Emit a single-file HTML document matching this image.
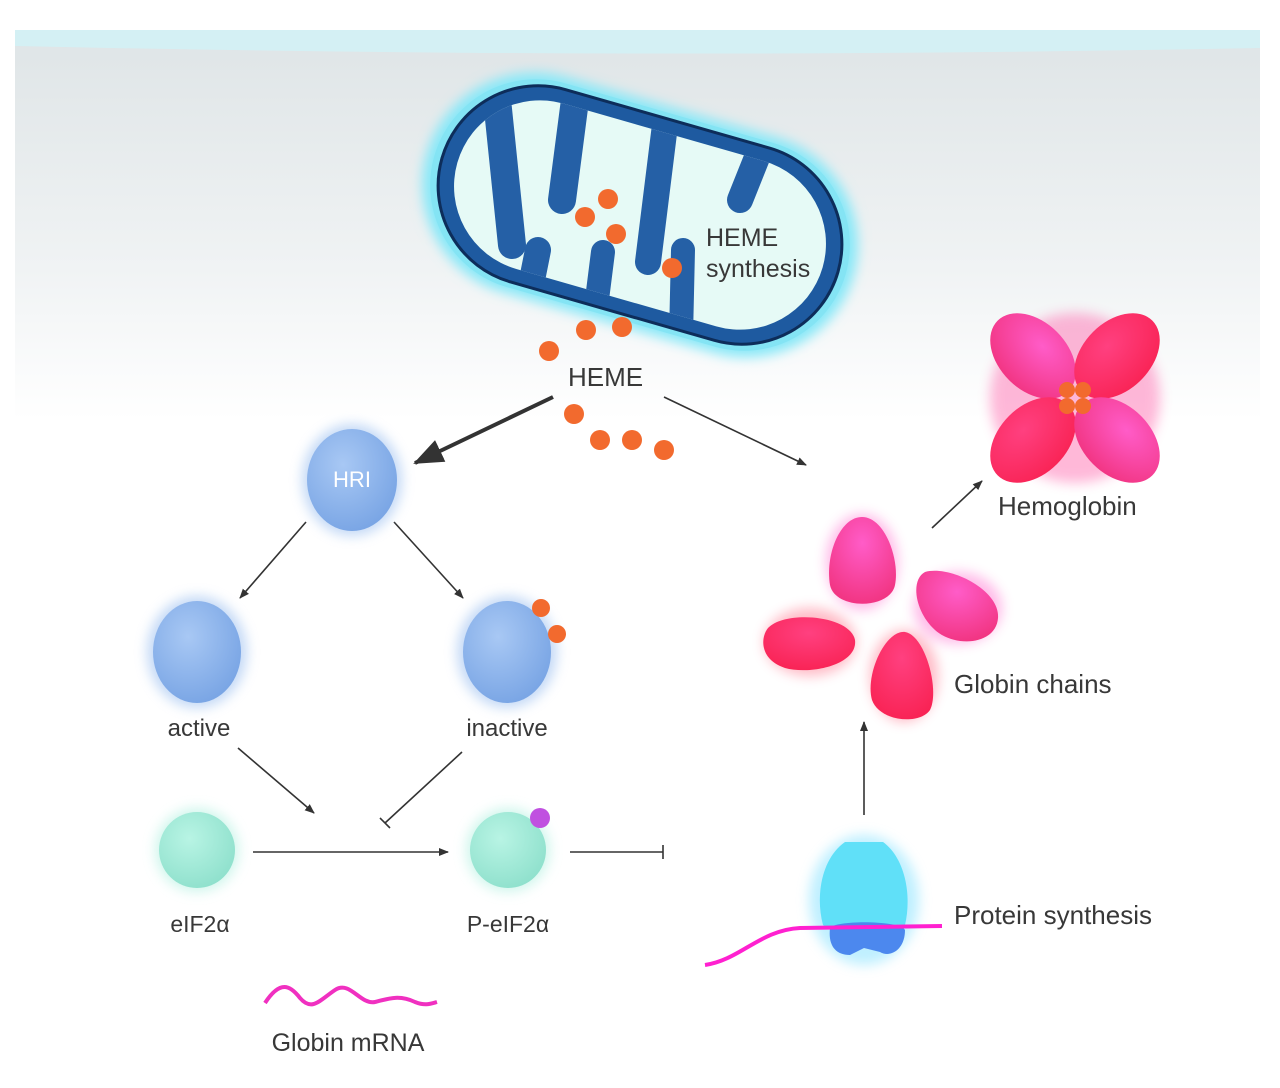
<!DOCTYPE html>
<html><head><meta charset="utf-8"><style>
html,body{margin:0;padding:0;background:#fff}
svg{display:block}
text{font-family:"Liberation Sans",sans-serif;fill:#383838}
</style></head><body>
<svg width="1280" height="1088" viewBox="0 0 1280 1088" xmlns="http://www.w3.org/2000/svg">
<defs>
<linearGradient id="bg" x1="0" y1="0" x2="0" y2="1">
<stop offset="0" stop-color="#dfe5e7"/><stop offset="0.6" stop-color="#f0f3f4"/><stop offset="1" stop-color="#ffffff"/>
</linearGradient>
<radialGradient id="blue" cx="0.4" cy="0.35" r="0.7"><stop offset="0" stop-color="#a8c8f4"/><stop offset="1" stop-color="#78a4e4"/></radialGradient>
<radialGradient id="teal" cx="0.4" cy="0.35" r="0.7"><stop offset="0" stop-color="#b8f4e4"/><stop offset="1" stop-color="#8ee0cc"/></radialGradient>
<radialGradient id="pink" cx="0.5" cy="0.3" r="0.8"><stop offset="0" stop-color="#ff5cc8"/><stop offset="1" stop-color="#f0307a"/></radialGradient>
<radialGradient id="red" cx="0.5" cy="0.3" r="0.8"><stop offset="0" stop-color="#ff4080"/><stop offset="1" stop-color="#f82050"/></radialGradient>
<filter id="glow" x="-30%" y="-30%" width="160%" height="160%"><feGaussianBlur stdDeviation="6"/></filter>
<marker id="ah" markerWidth="10" markerHeight="10" refX="9" refY="5" orient="auto" markerUnits="userSpaceOnUse"><path d="M0,1 L10,5 L0,9 z" fill="#333"/></marker>
<marker id="ahb" markerWidth="30" markerHeight="24" refX="28" refY="12" orient="auto" markerUnits="userSpaceOnUse"><path d="M0,0 L30,12 L0,24 z" fill="#333"/></marker>
<clipPath id="mc"><rect x="-190" y="-86" width="380" height="172" rx="86" transform="translate(640,215) rotate(16)"/></clipPath>
</defs>
<rect width="1280" height="1088" fill="#fff"/>
<rect x="15" y="40" width="1245" height="380" fill="url(#bg)"/>
<rect x="15" y="420" width="1245" height="40" fill="#fff"/>
<path d="M15,30 L1260,30 L1260,48 Q640,60 15,46 z" fill="#d4f0f4"/>

<!-- mitochondrion -->
<g transform="translate(640,215) rotate(16)">
<rect x="-222" y="-112" width="444" height="224" rx="112" fill="#88e8f8" filter="url(#glow)"/>
<rect x="-214" y="-106" width="428" height="212" rx="106" fill="#84e4f4"/>
<rect x="-206" y="-100" width="412" height="200" rx="100" fill="#1e5aa0" stroke="#0d2d5a" stroke-width="3"/>
<rect x="-190" y="-86" width="380" height="172" rx="86" fill="#e6faf6"/>
</g>
<g clip-path="url(#mc)" stroke="#2560a6" stroke-linecap="round" fill="none">
<line x1="495" y1="80" x2="512" y2="245" stroke-width="28"/>
<line x1="575" y1="100" x2="562" y2="200" stroke-width="28"/>
<line x1="665" y1="125" x2="648" y2="262" stroke-width="26"/>
<line x1="760" y1="150" x2="740" y2="200" stroke-width="26"/>
<line x1="520" y1="340" x2="538" y2="250" stroke-width="26"/>
<line x1="590" y1="355" x2="603" y2="252" stroke-width="24"/>
<line x1="680" y1="380" x2="683" y2="250" stroke-width="24"/>
</g>
<text x="706" y="246" font-size="25">HEME</text>
<text x="706" y="277" font-size="25">synthesis</text>
<g fill="#f26a2e">
<circle cx="608" cy="199" r="10"/><circle cx="585" cy="217" r="10"/><circle cx="616" cy="234" r="10"/><circle cx="672" cy="268" r="10"/>
<circle cx="586" cy="330" r="10"/><circle cx="622" cy="327" r="10"/><circle cx="549" cy="351" r="10"/>
<circle cx="574" cy="414" r="10"/><circle cx="600" cy="440" r="10"/><circle cx="632" cy="440" r="10"/><circle cx="664" cy="450" r="10"/>
</g>
<text x="568" y="386" font-size="26">HEME</text>

<!-- arrows -->
<g stroke="#333" stroke-width="1.6" fill="none">
<line x1="553" y1="397" x2="415" y2="463" stroke-width="4" marker-end="url(#ahb)"/>
<line x1="664" y1="397" x2="806" y2="465" marker-end="url(#ah)"/>
<line x1="306" y1="522" x2="240" y2="598" marker-end="url(#ah)"/>
<line x1="394" y1="522" x2="463" y2="598" marker-end="url(#ah)"/>
<line x1="238" y1="748" x2="314" y2="813" marker-end="url(#ah)"/>
<line x1="462" y1="752" x2="385" y2="823"/><line x1="380" y1="818" x2="390" y2="828"/>
<line x1="253" y1="852" x2="448" y2="852" marker-end="url(#ah)"/>
<line x1="570" y1="852" x2="663" y2="852"/><line x1="663" y1="845" x2="663" y2="859"/>
<line x1="864" y1="815" x2="864" y2="722" marker-end="url(#ah)"/>
<line x1="932" y1="528" x2="982" y2="481" marker-end="url(#ah)"/>
</g>

<!-- HRI etc -->
<ellipse cx="352" cy="480" rx="50" ry="56" fill="#9cc0f0" filter="url(#glow)" opacity="0.6"/>
<ellipse cx="352" cy="480" rx="45" ry="51" fill="url(#blue)"/>
<text x="352" y="487" font-size="22" text-anchor="middle" style="fill:#fff">HRI</text>
<ellipse cx="197" cy="652" rx="50" ry="56" fill="#9cc0f0" filter="url(#glow)" opacity="0.6"/>
<ellipse cx="197" cy="652" rx="44" ry="51" fill="url(#blue)"/>
<ellipse cx="507" cy="652" rx="50" ry="56" fill="#9cc0f0" filter="url(#glow)" opacity="0.6"/>
<ellipse cx="507" cy="652" rx="44" ry="51" fill="url(#blue)"/>
<circle cx="541" cy="608" r="9" fill="#f26a2e"/><circle cx="557" cy="634" r="9" fill="#f26a2e"/>
<text x="199" y="736" font-size="24" text-anchor="middle">active</text>
<text x="507" y="736" font-size="24" text-anchor="middle">inactive</text>
<circle cx="197" cy="850" r="42" fill="#b0f0e0" filter="url(#glow)" opacity="0.6"/>
<circle cx="197" cy="850" r="38" fill="url(#teal)"/>
<circle cx="508" cy="850" r="42" fill="#b0f0e0" filter="url(#glow)" opacity="0.6"/>
<circle cx="508" cy="850" r="38" fill="url(#teal)"/>
<circle cx="540" cy="818" r="10" fill="#c050e0"/>
<text x="200" y="932" font-size="23" text-anchor="middle">eIF2α</text>
<text x="508" y="932" font-size="23" text-anchor="middle">P-eIF2α</text>
<path d="M265,1003 C280,980 290,985 300,998 C312,1012 320,1000 335,990 C350,980 360,1005 375,1002 C390,998 400,995 415,1002 C425,1006 430,1004 437,1002" stroke="#f030c0" stroke-width="4" fill="none"/>
<text x="348" y="1051" font-size="25" text-anchor="middle">Globin mRNA</text>

<!-- globin chains -->
<g filter="url(#glow)" opacity="0.35">
<ellipse cx="862" cy="562" rx="36" ry="48" fill="#ff40c0"/><ellipse cx="958" cy="608" rx="44" ry="36" fill="#ff40c0"/>
<ellipse cx="810" cy="642" rx="46" ry="34" fill="#ff4060"/><ellipse cx="904" cy="676" rx="34" ry="46" fill="#ff4060"/>
</g>
<path d="M862,517 C885,517 900,560 895,585 C890,610 835,610 830,585 C825,555 840,517 862,517 z" fill="url(#pink)"/>
<path d="M925,572 C950,565 1000,590 998,618 C996,645 955,648 935,630 C915,612 910,580 925,572 z" fill="url(#pink)"/>
<path d="M768,628 C785,610 850,615 855,640 C858,665 810,675 785,668 C760,660 760,638 768,628 z" fill="url(#red)"/>
<path d="M905,632 C925,635 940,690 930,710 C920,725 880,722 872,700 C865,675 885,630 905,632 z" fill="url(#red)"/>
<text x="954" y="693" font-size="26">Globin chains</text>

<!-- hemoglobin -->
<g transform="translate(1075,398)">
<g filter="url(#glow)" opacity="0.4"><circle r="85" fill="#ff50a0"/></g>
<ellipse cx="-42" cy="-42" rx="50" ry="34" transform="rotate(45 -42 -42)" fill="url(#pink)"/>
<ellipse cx="42" cy="-42" rx="50" ry="34" transform="rotate(-45 42 -42)" fill="url(#red)"/>
<ellipse cx="-42" cy="42" rx="50" ry="34" transform="rotate(-45 -42 42)" fill="url(#red)"/>
<ellipse cx="42" cy="42" rx="50" ry="34" transform="rotate(45 42 42)" fill="url(#pink)"/>
<g fill="#f26a2e"><circle cx="-8" cy="-8" r="8"/><circle cx="8" cy="-8" r="8"/><circle cx="-8" cy="8" r="8"/><circle cx="8" cy="8" r="8"/></g>
</g>
<text x="998" y="515" font-size="26">Hemoglobin</text>

<!-- ribosome -->
<ellipse cx="864" cy="900" rx="55" ry="65" fill="#80e0ff" filter="url(#glow)" opacity="0.5"/>
<path d="M845,842 L883,842 C905,858 912,895 905,925 C895,935 835,935 823,925 C815,895 822,858 845,842 z" fill="#60e0f8"/>
<path d="M830,928 C835,920 900,920 905,930 C905,950 890,958 880,952 L864,948 L850,955 C835,955 828,945 830,928 z" fill="#4c88ee"/>
<path d="M705,965 C740,960 760,930 800,928 L942,926" stroke="#ff20d0" stroke-width="4" fill="none"/>
<text x="954" y="924" font-size="26">Protein synthesis</text>
</svg>
</body></html>
